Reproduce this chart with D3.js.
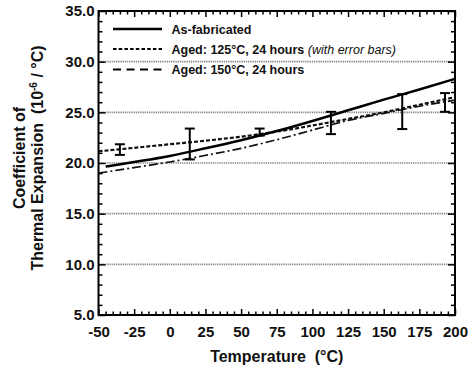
<!DOCTYPE html>
<html><head><meta charset="utf-8">
<script src="https://cdn.jsdelivr.net/npm/d3@7"></script>
<style>
html,body{margin:0;padding:0;background:#fff;}
svg{display:block;font-family:"Liberation Sans",Arial,sans-serif;}
</style></head>
<body><svg id="c" width="474" height="372"></svg>
<script>
const xMajorTicks = [-50,-25,0,25,50,75,100,125,150,175,200];
const yMajorTicks = [5,10,15,20,25,30,35];
const gridValues = [10,15,20,25,30];

const asFabTemps = [-45,-25,0,25,50,75,100,125,150,175,200];
const asFab = [19.65,20.1,20.7,21.45,22.25,23.15,24.15,25.2,26.25,27.25,28.3];

const agedTemps = [-50,-25,0,25,50,75,100,125,150,175,200];
const aged125 = [21.15,21.5,21.85,22.2,22.6,23.1,23.7,24.35,25.0,25.75,26.5];
const aged150 = [19.0,19.55,20.1,20.75,21.45,22.3,23.25,24.2,24.9,25.6,26.2];

const ebTemps = [-35,14,63,113,163,193];
const ebLow  = [20.8,20.35,22.7,22.85,23.35,25.05];
const ebHigh = [21.85,23.4,23.4,25.05,26.8,26.9];

const legendLabels = ["As-fabricated","Aged: 125°C, 24 hours","Aged: 150°C, 24 hours"];

const svg = d3.select("#c");
const L=98.5,R=455,T=11,B=315;
const x = d3.scaleLinear().domain([-50,200]).range([L,R]);
const y = d3.scaleLinear().domain([5,35]).range([B,T]);
const xMinor = d3.range(-50,201,5).filter(v=>!xMajorTicks.includes(v));
const yMinor = d3.range(5,35.01,1).filter(v=>!yMajorTicks.includes(v));

// grid
svg.append("g").selectAll("line").data(gridValues).join("line")
  .attr("x1",L).attr("x2",R).attr("y1",d=>y(d)).attr("y2",d=>y(d))
  .attr("stroke","#7a7a7a").attr("stroke-width",1.6).attr("stroke-dasharray","1.2,1");

function styleAxis(g){g.select(".domain").remove();g.selectAll("line").attr("stroke","#000").attr("stroke-width",1.5);}

// bottom
svg.append("g").attr("transform",`translate(0,${B})`)
  .call(d3.axisBottom(x).tickValues(xMajorTicks).tickSize(-6).tickPadding(11).tickFormat(d=>String(d)))
  .call(styleAxis)
  .call(g=>g.selectAll("text").attr("font-size",15).attr("font-weight","bold").attr("fill","#111"));
svg.append("g").attr("transform",`translate(0,${B})`)
  .call(d3.axisBottom(x).tickValues(xMinor).tickSize(-3.5).tickFormat(""))
  .call(styleAxis);
// top
svg.append("g").attr("transform",`translate(0,${T})`)
  .call(d3.axisTop(x).tickValues(xMajorTicks).tickSize(-6).tickFormat("")).call(styleAxis);
svg.append("g").attr("transform",`translate(0,${T})`)
  .call(d3.axisTop(x).tickValues(xMinor).tickSize(-3.5).tickFormat("")).call(styleAxis);
// left
svg.append("g").attr("transform",`translate(${L},0)`)
  .call(d3.axisLeft(y).tickValues(yMajorTicks).tickSize(-7).tickPadding(4).tickFormat(d3.format(".1f")))
  .call(styleAxis)
  .call(g=>g.selectAll("text").attr("font-size",15).attr("font-weight","bold").attr("fill","#111"));
svg.append("g").attr("transform",`translate(${L},0)`)
  .call(d3.axisLeft(y).tickValues(yMinor).tickSize(-4).tickFormat("")).call(styleAxis);
// right
svg.append("g").attr("transform",`translate(${R},0)`)
  .call(d3.axisRight(y).tickValues(yMajorTicks).tickSize(-7).tickFormat("")).call(styleAxis);
svg.append("g").attr("transform",`translate(${R},0)`)
  .call(d3.axisRight(y).tickValues(yMinor).tickSize(-4).tickFormat("")).call(styleAxis);

// frame
svg.append("rect").attr("x",L).attr("y",T).attr("width",R-L).attr("height",B-T)
  .attr("fill","none").attr("stroke","#000").attr("stroke-width",2);

// lines
const line = d3.line().x(d=>x(d[0])).y(d=>y(d[1])).curve(d3.curveMonotoneX);
svg.append("path").datum(agedTemps.map((t,i)=>[t,aged150[i]])).attr("d",line)
  .attr("fill","none").attr("stroke","#111").attr("stroke-width",1.7).attr("stroke-dasharray","9,3,2,3");
svg.append("path").datum(agedTemps.map((t,i)=>[t,aged125[i]])).attr("d",line)
  .attr("fill","none").attr("stroke","#111").attr("stroke-width",2.2).attr("stroke-dasharray","4,2");
svg.append("path").datum(asFabTemps.map((t,i)=>[t,asFab[i]])).attr("d",line)
  .attr("fill","none").attr("stroke","#000").attr("stroke-width",2.5);

// error bars
const eb = svg.append("g").attr("stroke","#000").attr("stroke-width",2);
ebTemps.forEach((t,i)=>{
  const cx=x(t), y1=y(ebLow[i]), y2=y(ebHigh[i]);
  eb.append("line").attr("x1",cx).attr("x2",cx).attr("y1",y1).attr("y2",y2);
  eb.append("line").attr("x1",cx-5).attr("x2",cx+5).attr("y1",y1).attr("y2",y1);
  eb.append("line").attr("x1",cx-5).attr("x2",cx+5).attr("y1",y2).attr("y2",y2);
});

// legend
const lg = svg.append("g");
const rowsY=[29,49,69.5], dashes=[null,"3.5,2.2","8,5.5"], widths=[2.5,2.2,1.8];
rowsY.forEach((ry,i)=>{
  lg.append("line").attr("x1",113).attr("x2",162).attr("y1",ry).attr("y2",ry)
    .attr("stroke","#000").attr("stroke-width",widths[i]).attr("stroke-dasharray",dashes[i]);
  const t = lg.append("text").attr("x",171.5).attr("y",ry+4.5).attr("font-size",12.5).attr("font-weight","bold").attr("fill","#111");
  t.append("tspan").text(legendLabels[i]);
  if(i===1) t.append("tspan").attr("font-weight","normal").attr("font-style","italic").text(" (with error bars)");
});

// axis titles
svg.append("text").attr("x",(L+R)/2).attr("y",362).attr("text-anchor","middle")
  .attr("font-size",16).attr("font-weight","bold").attr("fill","#111")
  .text("Temperature\u00a0\u00a0(°C)");
const yt = svg.append("text").attr("transform","translate(0,158) rotate(-90)")
  .attr("text-anchor","middle").attr("font-size",16).attr("font-weight","bold").attr("fill","#111");
yt.append("tspan").attr("x",0).attr("y",25).text("Coefficient of");
const l2 = yt.append("tspan").attr("x",0).attr("y",43);
l2.append("tspan").text("Thermal Expansion\u00a0\u00a0(10");
l2.append("tspan").attr("dy",-6).attr("font-size",10).text("-6");
l2.append("tspan").attr("dy",6).text(" / °C)");
</script></body></html>
